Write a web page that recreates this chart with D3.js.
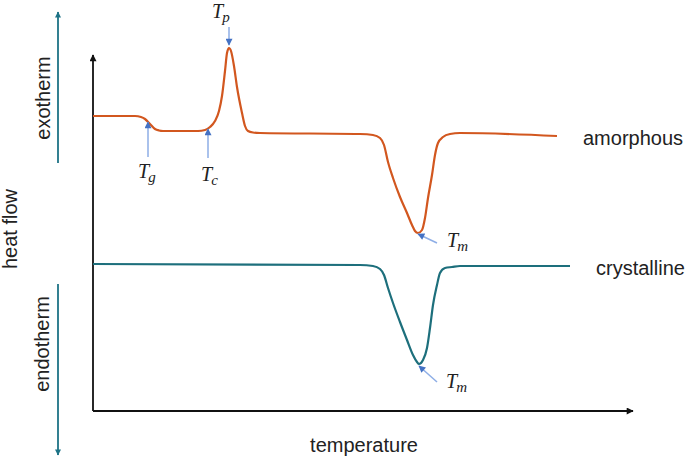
<!DOCTYPE html>
<html>
<head>
<meta charset="utf-8">
<script src="https://cdn.jsdelivr.net/npm/d3@7"></script>
<style>
  body { margin: 0; background: #fff; }
  text { font-family: "Liberation Sans", Arial, sans-serif; fill: #222; }
  .math { font-family: "Liberation Serif", "DejaVu Serif", serif; font-style: italic; }
</style>
</head>
<body>
<div id="viz"></div>
<script>
// arbitrary units: temperature along x, heat flow along y
var amorphousTemp = [0, 42, 48, 52, 57, 62, 66, 70, 105, 112, 117, 122, 126, 129, 132, 134, 136, 138, 141, 144,
                     149, 152, 155, 160, 167, 267, 280, 287, 291, 295, 300, 307, 314, 319, 322, 325, 329, 332,
                     335, 339, 342, 345, 350, 357, 367, 464];
var amorphousFlow = [295, 295, 294, 292, 287, 282, 280.5, 280, 280, 281, 284, 290, 300, 315, 340, 358, 363, 360, 345, 324,
                     298, 285, 280, 278.5, 278, 277, 276, 273, 266, 249, 233, 214, 198, 186, 180, 178, 181, 193,
                     213, 236, 256, 268, 274, 277, 278, 275];

var crystallineTemp = [0, 267, 280, 287, 291, 295, 300, 307, 314, 320, 324, 326, 330, 334, 337, 340, 344, 347,
                       352, 359, 367, 477];
var crystallineFlow = [147, 146, 145, 142, 136, 123, 108, 89, 71, 56, 49, 47, 51, 63, 83, 106, 126, 138,
                       143, 144, 145, 145];

var seriesNames = ["amorphous", "crystalline"];
var seriesColors = ["#d2571f", "#1d6f7c"];

// annotated transitions: symbol, subscript, point on the curve
var markSymbols = ["T", "T", "T", "T", "T"];
var markSubs = ["g", "c", "p", "m", "m"];
var markTemp = [55, 115, 136, 325, 326];
var markFlow = [289, 282, 366, 177, 45];

var width = 685,
    height = 460;

var x = d3.scaleLinear().domain([0, 540]).range([93, 633]);
var y = d3.scaleLinear().domain([0, 356]).range([411, 55]);

var svg = d3.select("#viz").append("svg")
    .attr("width", width)
    .attr("height", height);

var defs = svg.append("defs");
function marker(id, color, w, h) {
  defs.append("marker")
      .attr("id", id)
      .attr("viewBox", "0 0 10 10")
      .attr("refX", 9)
      .attr("refY", 5)
      .attr("markerUnits", "userSpaceOnUse")
      .attr("markerWidth", w)
      .attr("markerHeight", h)
      .attr("orient", "auto")
    .append("path")
      .attr("d", "M0,0L10,5L0,10z")
      .attr("fill", color);
}
marker("axisHead", "#111", 8, 7);
marker("tealHead", "#1d7386", 7, 6);
marker("blueHead", "#4472c4", 8, 7);

// axes (no ticks, just arrows)
svg.append("line")
    .attr("x1", x(0)).attr("y1", y(0))
    .attr("x2", x(0)).attr("y2", y(356))
    .attr("stroke", "#111").attr("stroke-width", 1.8)
    .attr("marker-end", "url(#axisHead)");
svg.append("line")
    .attr("x1", x(0)).attr("y1", y(0))
    .attr("x2", x(540)).attr("y2", y(0))
    .attr("stroke", "#111").attr("stroke-width", 1.8)
    .attr("marker-end", "url(#axisHead)");

// exotherm / endotherm direction arrows
svg.append("line")
    .attr("x1", 58).attr("y1", 163).attr("x2", 58).attr("y2", 12)
    .attr("stroke", "#1d7386").attr("stroke-width", 1.8)
    .attr("marker-end", "url(#tealHead)");
svg.append("line")
    .attr("x1", 58).attr("y1", 284).attr("x2", 58).attr("y2", 455)
    .attr("stroke", "#1d7386").attr("stroke-width", 1.8)
    .attr("marker-end", "url(#tealHead)");

svg.append("text").attr("transform", "translate(50,98) rotate(-90)")
    .attr("text-anchor", "middle").style("font-size", "20px").text("exotherm");
svg.append("text").attr("transform", "translate(49,344) rotate(-90)")
    .attr("text-anchor", "middle").style("font-size", "20px").text("endotherm");
svg.append("text").attr("transform", "translate(17,229) rotate(-90)")
    .attr("text-anchor", "middle").style("font-size", "20px").text("heat flow");
svg.append("text").attr("x", 364).attr("y", 452)
    .attr("text-anchor", "middle").style("font-size", "20px").text("temperature");

// curves
var line = d3.line()
    .x(function(d) { return x(d[0]); })
    .y(function(d) { return y(d[1]); })
    .curve(d3.curveMonotoneX);

var series = [
  d3.zip(amorphousTemp, amorphousFlow),
  d3.zip(crystallineTemp, crystallineFlow)
];

svg.selectAll("path.curve")
    .data(series)
  .enter().append("path")
    .attr("class", "curve")
    .attr("fill", "none")
    .attr("stroke", function(d, i) { return seriesColors[i]; })
    .attr("stroke-width", 2.2)
    .attr("d", line);

// series labels at the right end
svg.selectAll("text.name")
    .data(series)
  .enter().append("text")
    .attr("class", "name")
    .attr("x", function(d) { return x(d[d.length - 1][0]) + 26; })
    .attr("y", function(d) { return y(d[d.length - 1][1]) + 9; })
    .style("font-size", "20px")
    .text(function(d, i) { return seriesNames[i]; });

// annotation arrows: tail offset and label offset relative to the marked point
var tailOff = [[0, 35], [0, 29], [0, -18], [19, 9], [18, 16]];
var labelOff = [[-10, 56], [-7, 52], [-17, -27], [29, 13], [27, 22]];

var marks = svg.selectAll("g.mark")
    .data(markSymbols)
  .enter().append("g")
    .attr("class", "mark")
    .attr("transform", function(d, i) {
      return "translate(" + x(markTemp[i]) + "," + y(markFlow[i]) + ")";
    });

marks.append("line")
    .attr("x1", function(d, i) { return tailOff[i][0]; })
    .attr("y1", function(d, i) { return tailOff[i][1]; })
    .attr("x2", 0)
    .attr("y2", 0)
    .attr("stroke", "#8eaee6")
    .attr("stroke-width", 1.5)
    .attr("marker-end", "url(#blueHead)");

var lbl = marks.append("text")
    .attr("class", "math")
    .attr("x", function(d, i) { return labelOff[i][0]; })
    .attr("y", function(d, i) { return labelOff[i][1]; })
    .style("font-size", "20px");
lbl.append("tspan").text(function(d) { return d; });
lbl.append("tspan")
    .attr("dx", -1)
    .attr("dy", 4)
    .style("font-size", "15px")
    .text(function(d, i) { return markSubs[i]; });
</script>
</body>
</html>
